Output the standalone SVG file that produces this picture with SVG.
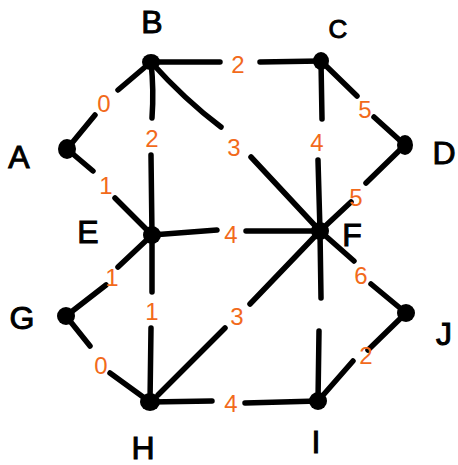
<svg xmlns="http://www.w3.org/2000/svg" width="458" height="465" viewBox="0 0 458 465">
<style>
.e{stroke:#000;stroke-width:5.5;stroke-linecap:round;fill:none}
.w{fill:#f26a1b;font-family:"Liberation Sans",sans-serif;font-size:24px;text-anchor:middle;dominant-baseline:central}
.n{fill:#000}
.l{fill:#000;stroke:#000;stroke-width:1;font-family:"Liberation Sans",sans-serif;font-size:32px;text-anchor:middle;dominant-baseline:central}
</style>
<rect width="458" height="465" fill="#fff"/>
<g id="connectors">
<path class="e" d="M67,149 L95,115 M118,90 L151,62"/>
<text class="w" x="104" y="103">0</text>
<path class="e" d="M67,149 L93,171 M115,198 L152,235"/>
<text class="w" x="106" y="185">1</text>
<path class="e" d="M151,62 L220,62 M260,62 L321,61"/>
<text class="w" x="238" y="64">2</text>
<path class="e" d="M151,62 Q154,90 152,118 M151,155 L152,235"/>
<text class="w" x="152" y="138">2</text>
<path class="e" d="M151,62 Q185,100 221,127 M251,157 L320,231"/>
<text class="w" x="234" y="147">3</text>
<path class="e" d="M321,61 L322,119 M318,160 L320,231"/>
<text class="w" x="317" y="142">4</text>
<path class="e" d="M321,61 L357,96 M374,117 L405,145"/>
<text class="w" x="365" y="109">5</text>
<path class="e" d="M405,145 L366,183 M351,202 L320,231"/>
<text class="w" x="356" y="197">5</text>
<path class="e" d="M152,235 L217,230 M246,231 L320,231"/>
<text class="w" x="231" y="234">4</text>
<path class="e" d="M152,235 L118,267 M106,285 L66,316"/>
<text class="w" x="112" y="277">1</text>
<path class="e" d="M152,235 L152,292 M151,328 L150,402"/>
<text class="w" x="152" y="311">1</text>
<path class="e" d="M66,316 L90,346 M110,373 L150,402"/>
<text class="w" x="101" y="365">0</text>
<path class="e" d="M320,231 L250,304 M225,328 L158,395"/>
<text class="w" x="237" y="316">3</text>
<path class="e" d="M150,402 L212,401 M245,403 L318,401"/>
<text class="w" x="231" y="403">4</text>
<path class="e" d="M320,231 L321,298 M319,331 L318,401"/>
<path class="e" d="M320,231 L354,261 M371,284 L406,313"/>
<text class="w" x="361" y="275">6</text>
<path class="e" d="M318,401 L353,361 M368,350 L406,313"/>
<text class="w" x="366" y="355">2</text>
</g>
<g id="A"><ellipse class="n" cx="67" cy="149" rx="9" ry="10"/><text class="l" x="19" y="157">A</text></g>
<g id="B"><ellipse class="n" cx="151" cy="62" rx="9" ry="8"/><text class="l" x="152" y="22">B</text></g>
<g id="C"><ellipse class="n" cx="321" cy="61" rx="8" ry="9"/><text class="l" x="338" y="29" style="font-size:26px">C</text></g>
<g id="D"><ellipse class="n" cx="405" cy="145" rx="8" ry="10"/><text class="l" x="444" y="153">D</text></g>
<g id="E"><ellipse class="n" cx="152" cy="235" rx="9" ry="9"/><text class="l" x="88" y="232">E</text></g>
<g id="F"><ellipse class="n" cx="320" cy="231" rx="9" ry="9"/><text class="l" x="352" y="235">F</text></g>
<g id="G"><ellipse class="n" cx="66" cy="316" rx="9" ry="9"/><text class="l" x="22" y="318">G</text></g>
<g id="H"><ellipse class="n" cx="150" cy="402" rx="10" ry="9"/><text class="l" x="143" y="448">H</text></g>
<g id="I"><ellipse class="n" cx="318" cy="401" rx="9" ry="9"/><text class="l" x="316" y="442">I</text></g>
<g id="J"><ellipse class="n" cx="406" cy="313" rx="9" ry="9"/><text class="l" x="444" y="334">J</text></g>
</svg>
